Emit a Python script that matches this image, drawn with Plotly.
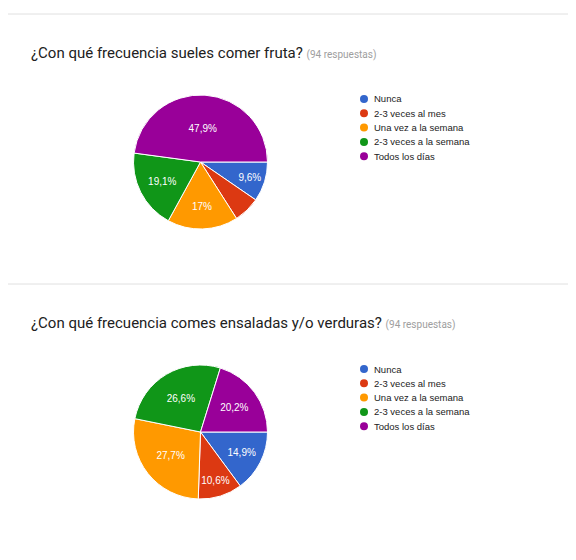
import plotly.graph_objects as go

# la pagina tiene 8px de margen en el body, la figura ocupa el resto
OX, OY = 8, 8
W, H = 576 - OX, 560 - OY

# opciones de respuesta y colores (paleta de Google Forms)
opciones = ["Nunca", "2-3 veces al mes", "Una vez a la semana",
            "2-3 veces a la semana", "Todos los días"]
colores = ["#3366cc", "#dc3912", "#ff9900", "#109618", "#990099"]

preguntas = ["¿Con qué frecuencia sueles comer fruta?",
             "¿Con qué frecuencia comes ensaladas y/o verduras?"]

# numero de respuestas por opcion (94 respuestas por pregunta)
fruta = [9, 6, 16, 18, 45]
verduras = [14, 10, 26, 25, 19]


def px(x):
    return (x - OX) / W


def py(y):
    return 1 - (y - OY) / H


fig = go.Figure()
shapes = []
annotations = []

for i, (pregunta, valores) in enumerate(zip(preguntas, [fruta, verduras])):
    off = 270 * i  # cada tarjeta esta 270px mas abajo
    total = sum(valores)
    # google no pone etiqueta en porciones muy pequeñas
    textos = ["%{percent:.1~%}" if v / total >= 0.07 else "" for v in valores]
    cx, cy, r = 200.5, 162 + off, 67

    fig.add_trace(go.Pie(
        labels=opciones, values=valores, sort=False,
        direction="clockwise", rotation=90,
        marker=dict(colors=colores, line=dict(color="white", width=1)),
        texttemplate=textos, textposition="inside",
        insidetextorientation="horizontal",
        textfont=dict(family="Arial", size=10, color="white"),
        domain=dict(x=[px(cx - r), px(cx + r)], y=[py(cy + r), py(cy - r)]),
        showlegend=False, hoverinfo="label+percent",
    ))

    # linea separadora de la tarjeta
    shapes.append(dict(type="line", xref="paper", yref="paper",
                       x0=0, x1=1, y0=py(14 + off), y1=py(14 + off),
                       line=dict(color="#e0e0e0", width=1)))

    annotations.append(dict(
        x=px(29), y=py(53 + off), xref="paper", yref="paper",
        xanchor="left", yanchor="middle", showarrow=False,
        text=f"{pregunta} <span style='font-size:10px;color:#9e9e9e'>({total} respuestas)</span>",
        font=dict(family="Roboto", size=15, color="#212121"),
    ))

    # leyenda con circulos
    for j, (op, col) in enumerate(zip(opciones, colores)):
        ly = 99 + 14.3 * j + off
        shapes.append(dict(type="circle", xref="paper", yref="paper",
                           x0=px(360), x1=px(368), y0=py(ly + 4), y1=py(ly - 4),
                           fillcolor=col, line=dict(width=0)))
        annotations.append(dict(
            x=px(372), y=py(ly), xref="paper", yref="paper",
            xanchor="left", yanchor="middle", showarrow=False,
            text=op, font=dict(family="Arial", size=9.5, color="#222222"),
        ))

# borde derecho de la pagina
shapes.append(dict(type="line", xref="paper", yref="paper",
                   x0=px(574.5), x1=px(574.5), y0=py(8), y1=py(527),
                   line=dict(color="#d0d0d0", width=1)))

fig.update_layout(
    width=W, height=H,
    margin=dict(l=0, r=0, t=0, b=0),
    paper_bgcolor="white", plot_bgcolor="white",
    separators=",.",
    shapes=shapes, annotations=annotations,
)

fig.write_html("out.html")
